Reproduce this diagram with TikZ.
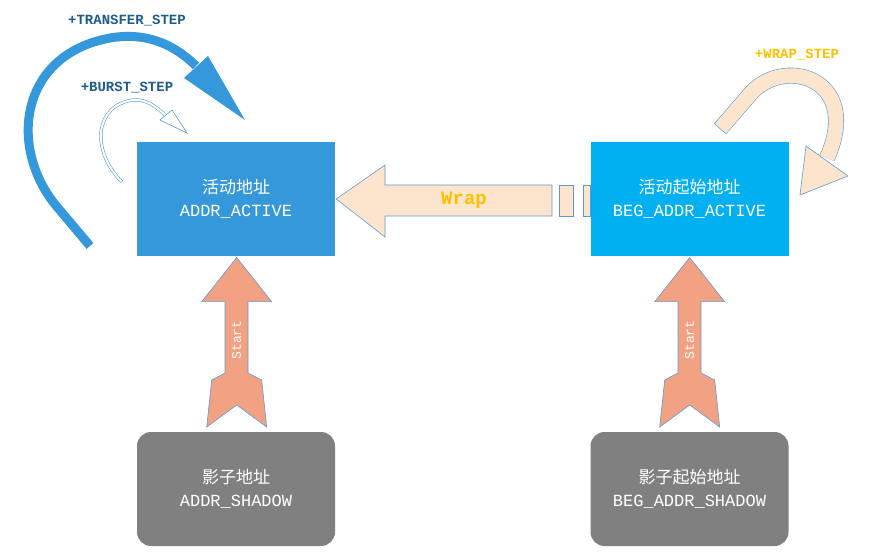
\documentclass[tikz,border=0pt]{standalone}
\usepackage{fontspec}
\newfontfamily\cjk{Noto Sans CJK SC}
\newfontfamily\mono{Liberation Mono}
\definecolor{boxA}{HTML}{3598DB}
\definecolor{boxB}{HTML}{00B0F0}
\definecolor{grayb}{HTML}{808080}
\definecolor{peach}{HTML}{FDE4CC}
\definecolor{salmon}{HTML}{F2A283}
\definecolor{edge}{HTML}{5B9BD5}
\definecolor{dblue}{HTML}{1F5C8C}
\definecolor{orng}{HTML}{FFC000}
\begin{document}
\begin{tikzpicture}[x=1pt,y=-1pt,
  box/.style={minimum width=198pt,minimum height=114pt,inner sep=0pt,align=center,text=white,font=\fontsize{17}{21}\selectfont},
  blk/.style={fill=peach,draw=edge,line width=0.6pt},
  startar/.style={fill=salmon,draw=edge,line width=0.6pt},
  lbl/.style={font=\mono\bfseries\fontsize{14}{16}\selectfont}]
\useasboundingbox (0,0) rectangle (879,556);
\node[box,fill=boxA] (aa) at (236,199) {{\cjk 活动地址}\\[2pt]{\mono ADDR\_ACTIVE}};
\node[box,fill=boxB] (ba) at (689.5,199) {{\cjk 活动起始地址}\\[2pt]{\mono BEG\_ADDR\_ACTIVE}};
\node[box,fill=grayb,rounded corners=14pt] (as) at (236,489) {{\cjk 影子地址}\\[2pt]{\mono ADDR\_SHADOW}};
\node[box,fill=grayb,rounded corners=14pt] (bs) at (689.5,489) {{\cjk 影子起始地址}\\[2pt]{\mono BEG\_ADDR\_SHADOW}};
% Wrap arrow
\draw[blk] (aa.east) ++(1,0) -- (385,165) -- (385,185) -- (552,185) -- (552,216) -- (385,216) -- (385,237) -- cycle;
\draw[blk] (559,185) rectangle (573,216);
\draw[blk] (583,185) rectangle (ba.west |- 0,216);
\node[font=\mono\bfseries\fontsize{19}{20}\selectfont,text=orng] (wr) at (464,200) {Wrap};
% Start arrows
\foreach \c/\s/\n in {0/as/aa,453/bs/ba}{
\begin{scope}[xshift=\c]
\draw[startar] (236.7,257.5) -- (271.7,301.7) -- (248,301.7) -- (248,373) -- (261.7,380) -- (266.7,427) -- (236.7,405) -- (206.7,427) -- (211.7,380) -- (225,373) -- (225,301.7) -- (201.7,301.7) -- cycle;
\node[rotate=90,text=white,font=\mono\fontsize{13}{14}\selectfont] at (236.7,340) {Start};
\end{scope}}
% transfer step arrow
\draw[boxA,line width=9pt] (90,246) -- (58,208) .. controls (8,150) and (18,55) .. (110,38) .. controls (150,31) and (178,48) .. (196,66);
\fill[boxA] (184,78) -- (208,56) -- (245,120) -- cycle;
\node[lbl,text=dblue] (ts) at (127,21) {+TRANSFER\_STEP};
% burst step arrow
\draw[edge,line width=0.6pt,double=white,double distance=2pt] (122,182) .. controls (90,150) and (95,105) .. (133,100) .. controls (145,99) and (155,105) .. (166,116);
\draw[edge,line width=0.6pt,fill=white] (160,120) -- (172,110) -- (187,133) -- cycle;
\node[lbl,text=dblue] (bst) at (127,88) {+BURST\_STEP};
% wrap step arrow
\draw[edge,line width=16pt] (720,129) -- (752,92) .. controls (787,56) and (862,80) .. (827,158);
\draw[peach,line width=14.8pt] (720.5,128.5) -- (752,92) .. controls (787,56) and (862,80) .. (827,158);
\draw[blk] (806,146) -- (848,176) -- (800,195) -- cycle;
\node[lbl,text=orng] (ws) at (797,55) {+WRAP\_STEP};
\end{tikzpicture}
\end{document}
